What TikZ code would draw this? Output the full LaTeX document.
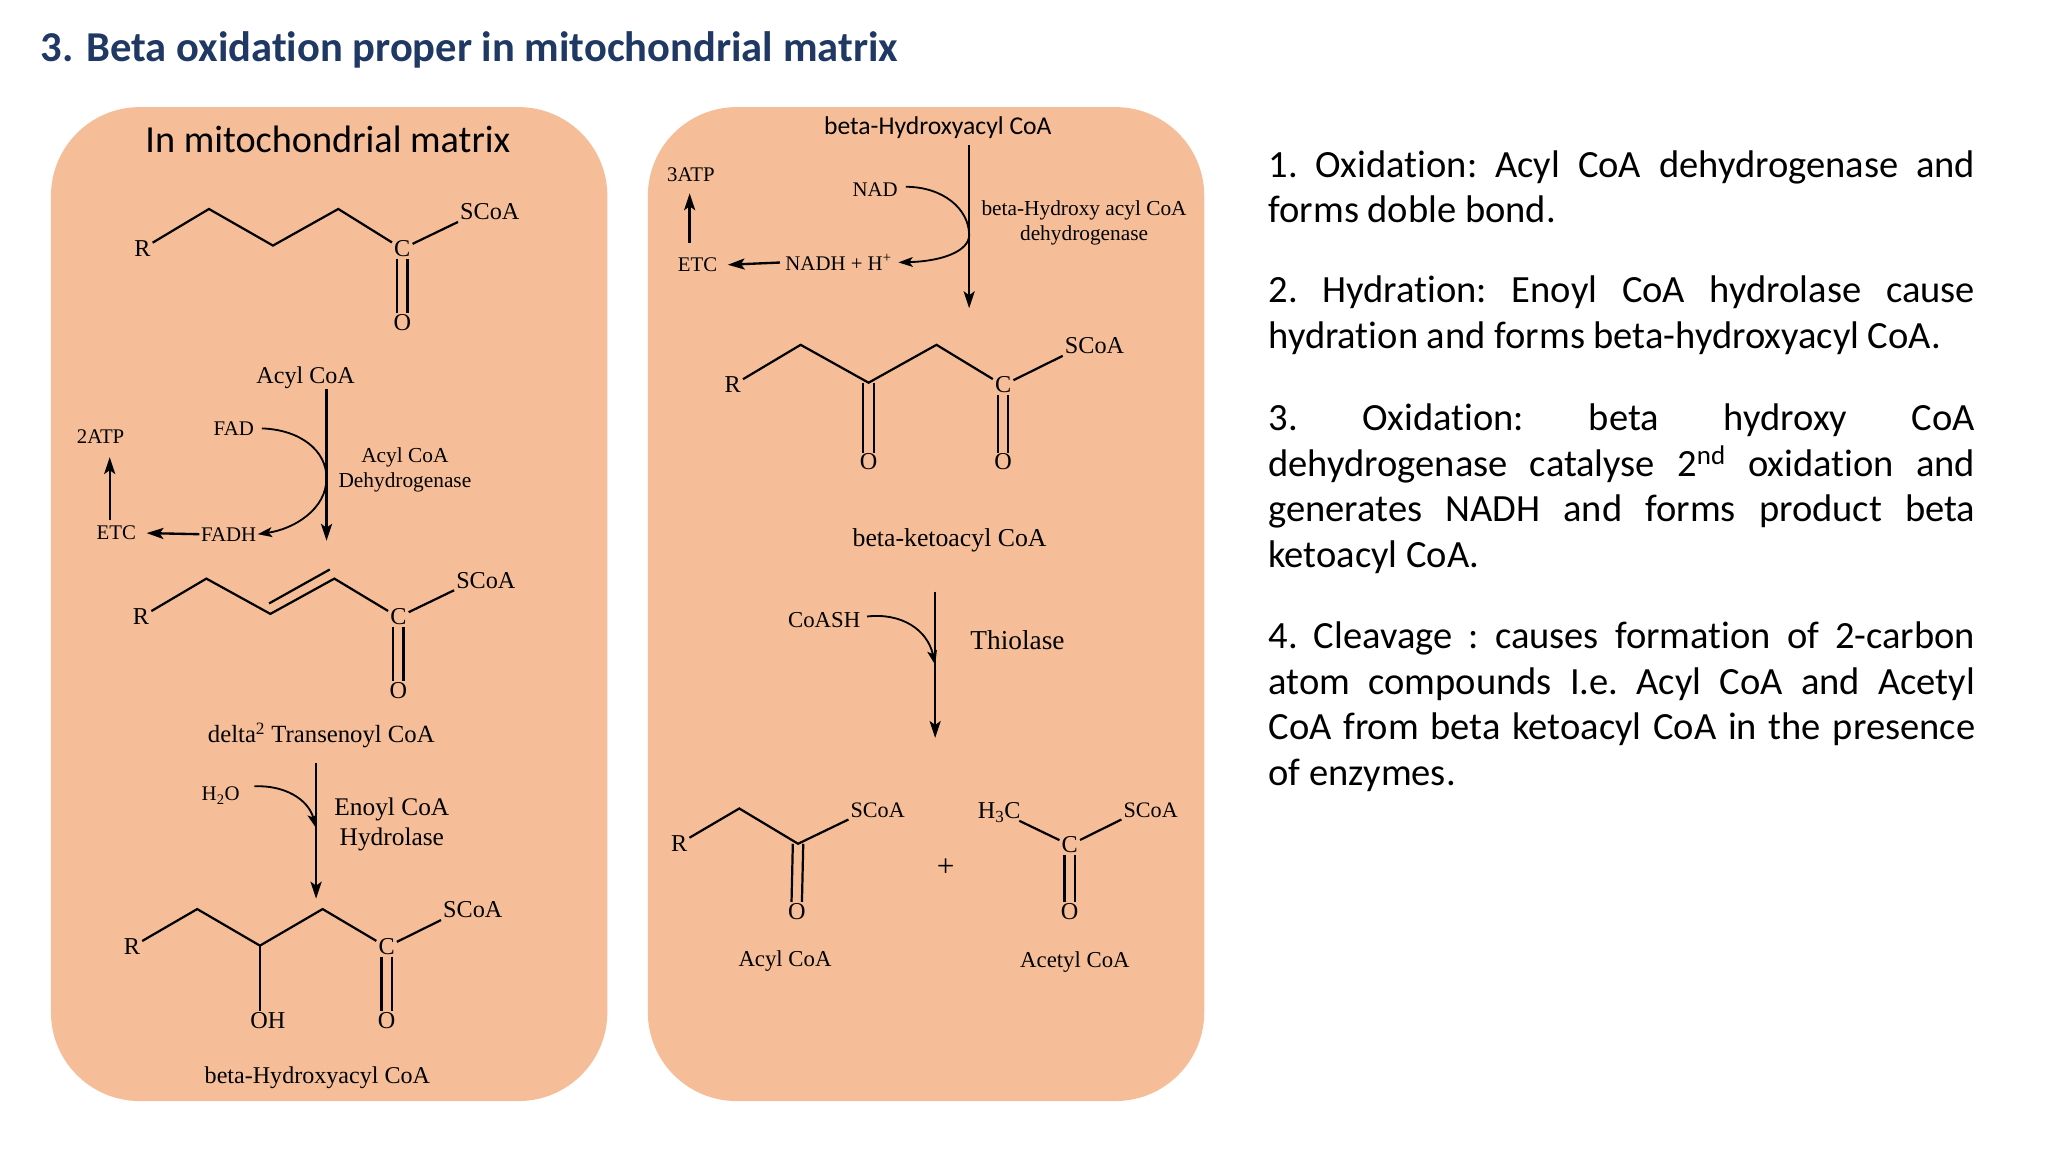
\documentclass[tikz,border=0pt]{standalone}
\usepackage{fontspec}
\setmainfont{Carlito}[Ligatures={NoCommon,TeX}]
\newfontfamily\chem{Liberation Serif}
\usetikzlibrary{arrows.meta}
\definecolor{panelc}{HTML}{F5BE98}
\definecolor{titlec}{HTML}{1F3864}
\tikzset{
  x=1bp,y=-1bp,
  panel/.style={fill=panelc,draw=none,rounded corners=68bp},
  atom/.style={font=\chem\fontsize{18.6}{18.6}\selectfont,inner sep=1.5pt,text height=11.5pt,text depth=0pt},
  lab/.style={font=\chem\fontsize{18.5}{22}\selectfont,inner sep=0pt,align=center},
  small/.style={font=\chem\fontsize{16}{19}\selectfont,inner sep=1pt,align=center},
  midl/.style={font=\chem\fontsize{17.5}{20}\selectfont,inner sep=1pt,align=center},
  enz/.style={font=\chem\fontsize{16.4}{19}\selectfont,inner sep=0pt,align=center},
  big/.style={font=\chem\fontsize{19.5}{23}\selectfont,inner sep=0pt,align=center},
  bond/.style={line width=1.7pt,line join=miter},
  rxn/.style={line width=1.8pt,-{Stealth[length=13pt,width=8.5pt,inset=3pt]}},
  curv/.style={line width=1.4pt,-{Stealth[length=11pt,width=7.5pt,inset=2.5pt]}},
  para/.style={font=\frenchspacing\fontsize{29.6}{35}\selectfont,text width=541bp,align=justify,inner sep=0pt,anchor=north west},
}
\begin{document}
\begin{tikzpicture}
\useasboundingbox (0,0) rectangle (1568,882);
\fill[white] (0,0) rectangle (1568,882);
\node[anchor=west,inner sep=0pt,text=titlec,font=\fontsize{32.7}{36}\selectfont\bfseries] (title) at (31,38.5) {3. Beta oxidation proper in mitochondrial matrix};
\path[panel] (39,82) rectangle (465,843);
\path[panel] (496,82) rectangle (922,843);
\node[inner sep=0pt,font=\fontsize{29.4}{34}\selectfont] (head1) at (251,106.5) {In mitochondrial matrix};
\node[inner sep=0pt,font=\fontsize{19.7}{24}\selectfont] (head2) at (718,97.5) {beta-Hydroxyacyl CoA};

% molecule 1
\node[atom] (R1) at (109,190.5) {R};
\node[atom] (C1) at (308,190.5) {C};
\node[atom] (O1) at (308,247) {O};
\node[atom] (S1) at (375,162.5) {SCoA};
\coordinate (a1) at (160,160);
\coordinate (a2) at (209,188);
\coordinate (a3) at (259,160);
\draw[bond] (R1) -- (a1) -- (a2) -- (a3) -- (C1);
\draw[bond] (C1) -- (S1.south west);
\draw[bond] ([xshift=-4pt]C1.south) -- ([xshift=-4pt]O1.north);
\draw[bond] ([xshift=4pt]C1.south) -- ([xshift=4pt]O1.north);
\node[lab] (n1) at (234,289) {Acyl CoA};

% step 1
\coordinate (k1) at (250,366);
\coordinate (t1) at (250,414);
\node[small] (fad) at (179,328) {FAD};
\node[small] (fadh) at (175,409) {FADH};
\node[small] (etc1) at (89,408) {ETC};
\node[small] (atp2) at (77,334) {2ATP};
\node[enz] (e1) at (310,359.5) {Acyl CoA\\Dehydrogenase};
\draw[rxn] (n1.south -| k1) -- (t1);
\draw[rxn] (etc1.north -| 84,0) ++(0,-3) -- (84,350);
\draw[rxn,shorten >=7pt] (fadh.west) -- (etc1.east);
\draw[curv] (fad.east) ++(5,0) .. controls (230,329) and (250,345) .. (k1) .. controls (250,390) and (225,405) .. (fadh.east);

% molecule 2
\node[atom] (R2) at (108,472.5) {R};
\node[atom] (C2) at (305,472.5) {C};
\node[atom] (O2) at (305,529) {O};
\node[atom] (S2) at (372,444.5) {SCoA};
\coordinate (b1) at (158,443);
\coordinate (b2) at (207,470);
\coordinate (b3) at (256,443);
\coordinate (b4) at (206,462);
\coordinate (b5) at (252.5,436);
\draw[bond] (R2) -- (b1) -- (b2) -- (b3) -- (C2);
\draw[bond] (b4) -- (b5);
\draw[bond] (C2) -- (S2.south west);
\draw[bond] ([xshift=-4pt]C2.south) -- ([xshift=-4pt]O2.north);
\draw[bond] ([xshift=4pt]C2.south) -- ([xshift=4pt]O2.north);
\node[lab,font=\chem\fontsize{19}{22}\selectfont] (n2) at (246,563) {delta\textsuperscript{2} Transenoyl CoA};

% step 2
\coordinate (t2) at (242,688);
\coordinate (k2) at (242,634);
\node[small] (h2o) at (169,609) {H\textsubscript{2}O};
\node[big] (e2) at (300,631.5) {Enoyl CoA\\Hydrolase};
\draw[rxn] (242,584) -- (t2);
\draw[curv] (h2o.east) ++(10,-7) .. controls (218,601) and (236,612) .. (k2);

% molecule 3
\node[atom] (R3) at (101,725) {R};
\node[atom] (C3) at (296,725) {C};
\node[atom] (O3) at (296,781.5) {O};
\node[atom] (OH) at (205,781.5) {OH};
\node[atom] (S3) at (362,697) {SCoA};
\coordinate (c1) at (151,696);
\coordinate (c2) at (199,724);
\coordinate (c3) at (247,696);
\draw[bond] (R3) -- (c1) -- (c2) -- (c3) -- (C3);
\draw[bond] (C3) -- (S3.south west);
\draw[bond] (c2) -- (c2 |- OH.north);
\draw[bond] ([xshift=-4pt]C3.south) -- ([xshift=-4pt]O3.north);
\draw[bond] ([xshift=4pt]C3.south) -- ([xshift=4pt]O3.north);
\node[lab] (n3) at (243,825) {beta-Hydroxyacyl CoA};

% step 3
\coordinate (k3) at (742,180);
\node[small] (nad) at (670,145) {NAD};
\node[small] (nadh) at (642,201) {NADH + H\textsuperscript{+}};
\node[small] (etc3) at (534,203) {ETC};
\node[small] (atp3) at (529,134) {3ATP};
\node[enz] (e3) at (830,170.5) {beta-Hydroxy acyl CoA\\dehydrogenase};
\draw[rxn] (742,111) -- (742,236);
\draw[rxn] (528,186) -- (528,148);
\draw[rxn,shorten >=7pt] (nadh.west) ++(-3,0) -- (etc3.east);
\draw[curv,shorten >=4pt] (nad.east) ++(5,-2) .. controls (722,143) and (742,160) .. (k3) .. controls (742,192) and (722,200) .. (nadh.east);

% molecule 4
\node[atom] (R4) at (561,295) {R};
\node[atom] (C4) at (768,295) {C};
\node[atom] (O4a) at (665,354) {O};
\node[atom] (O4b) at (768,354) {O};
\node[atom] (S4) at (838,265) {SCoA};
\coordinate (d1) at (613,264);
\coordinate (d2) at (665,293);
\coordinate (d3) at (717,264);
\draw[bond] (R4) -- (d1) -- (d2) -- (d3) -- (C4);
\draw[bond] (C4) -- (S4.south west);
\draw[bond] ([xshift=-4pt]d2) -- ([xshift=-4pt]O4a.north);
\draw[bond] ([xshift=4pt]d2) -- ([xshift=4pt]O4a.north);
\draw[bond] ([xshift=-4pt]C4.south) -- ([xshift=-4pt]O4b.north);
\draw[bond] ([xshift=4pt]C4.south) -- ([xshift=4pt]O4b.north);
\node[lab,font=\chem\fontsize{19.8}{22}\selectfont] (n4) at (727,414) {beta-ketoacyl CoA};

% step 4
\coordinate (k4) at (716,509);
\node[midl] (coash) at (631,475) {CoASH};
\node[big,font=\chem\fontsize{21}{23}\selectfont] (e4) at (779,490) {Thiolase};
\draw[rxn] (716,453) -- (716,565);
\draw[curv] (coash.east) ++(4,-3) .. controls (690,469) and (710,482) .. (k4);

% molecule 5
\node[atom] (R5) at (520,646) {R};
\node[atom] (O5) at (610,698) {O};
\node[atom,font=\chem\fontsize{17}{17}\selectfont] (S5) at (672,620) {SCoA};
\coordinate (f1) at (566,619);
\coordinate (f2) at (611,646);
\draw[bond] (R5) -- (f1) -- (f2) -- (S5.south west);
\draw[bond] ([xshift=-4pt]f2) -- ([xshift=-4pt]O5.north);
\draw[bond] ([xshift=4pt]f2) -- ([xshift=4pt]O5.north);
\node[midl] (n5) at (601,735.5) {Acyl CoA};
\node[inner sep=0pt,font=\chem\fontsize{24}{24}\selectfont] (plus) at (724,664.5) {+};

% molecule 6
\node[atom] (M6) at (765,621) {H\textsubscript{3}C};
\node[atom] (C6) at (819,647) {C};
\node[atom] (O6) at (819,698) {O};
\node[atom,font=\chem\fontsize{17}{17}\selectfont] (S6) at (881,620) {SCoA};
\draw[bond] (M6) -- (C6);
\draw[bond] (C6) -- (S6.south west);
\draw[bond] ([xshift=-4pt]C6.south) -- ([xshift=-4pt]O6.north);
\draw[bond] ([xshift=4pt]C6.south) -- ([xshift=4pt]O6.north);
\node[midl] (n6) at (823,736.5) {Acetyl CoA};

% text
\node[para] (p1) at (971,115) {1. Oxidation: Acyl CoA dehydrogenase and\linebreak forms doble bond.};
\node[para] (p2) at (971,211) {2. Hydration: Enoyl CoA hydrolase cause\linebreak hydration and forms beta-hydroxyacyl CoA.};
\node[para] (p3) at (971,309) {3. Oxidation: beta hydroxy CoA\linebreak dehydrogenase catalyse 2\textsuperscript{nd} oxidation and\linebreak generates NADH and forms product beta\linebreak ketoacyl CoA.};
\node[para] (p4) at (971,476) {4. Cleavage : causes formation of 2-carbon\linebreak atom compounds I.e. Acyl CoA and Acetyl\linebreak CoA from beta ketoacyl CoA in the presence\linebreak of enzymes.};
\end{tikzpicture}
\end{document}
